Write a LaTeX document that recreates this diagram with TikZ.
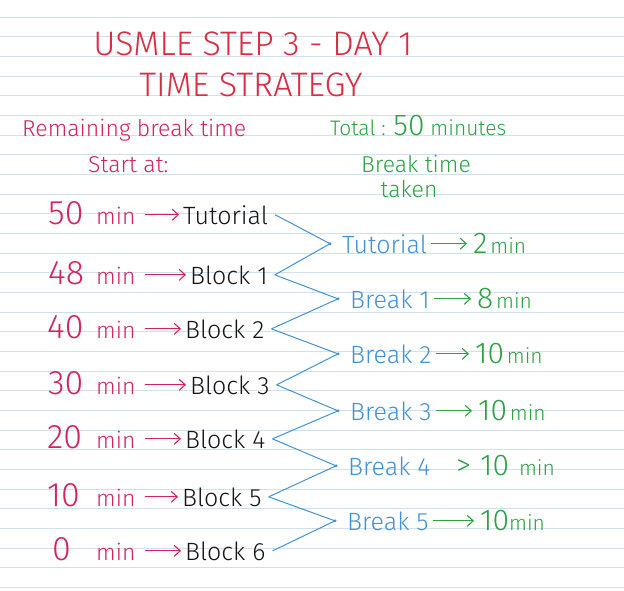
\documentclass[tikz,border=0pt]{standalone}
\usepackage{fontspec}
\IfFontExistsTF{Fira Sans Light}{\setmainfont{Fira Sans Light}}{\setmainfont{Fira Sans}}
\usetikzlibrary{arrows.meta}
\definecolor{titlered}{RGB}{218,44,66}
\definecolor{penpink}{RGB}{210,36,96}
\definecolor{pengreen}{RGB}{44,162,68}
\definecolor{penblue}{RGB}{66,146,214}
\definecolor{ruling}{RGB}{208,224,241}
\definecolor{ink}{RGB}{22,22,22}
\newcommand{\bigfig}[1]{{\fontsize{30}{30}\selectfont #1}}
\newcommand{\minfig}[1]{{\fontsize{21}{21}\selectfont #1}}
\tikzset{
  ttl/.style={text=titlered, font=\fontsize{34}{36}\selectfont, inner sep=0},
  hdl/.style={text=penpink, font=\fontsize{23}{25}\selectfont, inner sep=0, anchor=base west},
  hdr/.style={text=pengreen, font=\fontsize{21}{24}\selectfont, inner sep=0},
  num/.style={text=penpink, font=\fontsize{34}{34}\selectfont, inner sep=0, anchor=base west},
  unit/.style={text=penpink, font=\fontsize{23}{23}\selectfont, inner sep=0, anchor=base west},
  blk/.style={text=ink, font=\fontsize{25}{25}\selectfont, inner sep=0, anchor=base west},
  brk/.style={text=penblue, font=\fontsize{25}{25}\selectfont, inner sep=0, anchor=base west},
  taken/.style={text=pengreen, inner sep=0, anchor=base west},
  parr/.style={penpink, line width=1.1pt, -{Straight Barb[length=6pt,width=11pt]}, shorten <=9pt, shorten >=4pt},
  garr/.style={pengreen, line width=1.1pt, -{Straight Barb[length=6pt,width=11pt]}, shorten <=4pt, shorten >=6pt},
  conn/.style={penblue, line width=1pt}
}
\begin{document}
\begin{tikzpicture}[x=1pt, y=-1pt]
    \useasboundingbox (0,0) rectangle (624,591);
    \fill[white] (0,0) rectangle (624,591);
    \foreach \k in {0,...,29} \draw[ruling, line width=0.9pt] (0,17+19.67*\k) -- (624,17+19.67*\k);
    \node[ttl] (title) at (253,44) {USMLE STEP 3 - DAY 1};
    \node[ttl] (subtitle) at (251,85) {TIME STRATEGY};
    \node[hdl] (remain) at (22,137) {Remaining break time};
    \node[hdl] (start) at (88,173) {Start at:};
    \node[hdr, anchor=base west] (total) at (330,136) {Total : \bigfig{50} minutes};
    \node[hdr, anchor=base] (taken1) at (416,172) {\fontsize{23}{24}\selectfont Break time};
    \node[hdr, anchor=base] (taken2) at (409,197) {\fontsize{23}{24}\selectfont taken};
    \foreach \i/\n/\x/\b/\bx/\y in {0/50/48/Tutorial/183/224, 1/48/48/Block 1/190/284, 2/40/47/Block 2/185/338, 3/30/48/Block 3/190/394, 4/20/47/Block 4/185/448, 5/10/47/Block 5/182/506, 6/0/52/Block 6/185/560} {
        \node[num] (num\i) at (\x,\y) {\n};
        \node[unit] (min\i) at (96,\y) {min};
        \node[blk] (blk\i) at (\bx,\y) {\b};
        \draw[parr] (min\i.east |- blk\i.west) -- (blk\i.west);
        \coordinate (v\i) at ([xshift=7pt]blk\i.east);
    }
    \foreach \i/\b/\x/\y in {0/Tutorial/342/253, 1/Break 1/350/308, 2/Break 2/350/363, 3/Break 3/350/420, 4/Break 4/348/475, 5/Break 5/347/530} {
        \node[brk] (brk\i) at (\x,\y) {\b};
        \coordinate (d\i) at ([xshift=-12pt]brk\i.west);
    }
    \node[taken] (tk0) at (473,253) {\bigfig{2} \minfig{min}};
    \node[taken] (tk1) at (477,308) {\bigfig{8} \minfig{min}};
    \node[taken] (tk2) at (475,363) {\bigfig{10} \minfig{min}};
    \node[taken] (tk3) at (478,420) {\bigfig{10} \minfig{min}};
    \node[taken] (tk4) at (456,475) {\bigfig{>\hspace{9pt}10}\hspace{10pt}\minfig{min}};
    \node[taken] (tk5) at (480,530) {\bigfig{10}\minfig{min}};
    \foreach \i in {0,1,2,3,5} \draw[garr] (brk\i.east) -- (brk\i.east -| tk\i.west);
    \foreach \i [count=\j] in {0,...,5} {
        \draw[conn] (v\i) -- (d\i);
        \draw[conn] (v\j) -- (d\i);
        \fill[penblue] (d\i) circle (1.6pt);
    }
\end{tikzpicture}
\end{document}
